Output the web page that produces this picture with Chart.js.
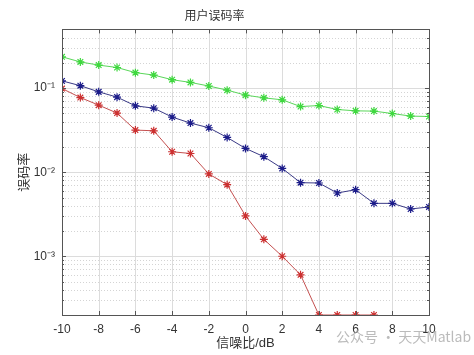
<!DOCTYPE html>
<html>
<head>
<meta charset="utf-8">
<script src="https://cdn.jsdelivr.net/npm/chart.js@4/dist/chart.umd.min.js"></script>
<style>
html,body{margin:0;padding:0;background:#fff;}
#wrap{width:474px;height:355px;position:relative;}
</style>
</head>
<body>
<div id="wrap"><canvas id="c" width="474" height="355"></canvas></div>
<script>
// ---- data ----
const snrDb = [-10,-9,-8,-7,-6,-5,-4,-3,-2,-1,0,1,2,3,4,5,6,7,8,9,10];
const berGreen = [0.236,0.205,0.188,0.176,0.153,0.143,0.126,0.117,0.106,0.0947,0.0826,0.0767,0.0726,0.0604,0.0621,0.0557,0.0537,0.0533,0.0499,0.0465,0.0460];
const berBlue  = [0.122,0.107,0.0903,0.0782,0.0616,0.0578,0.0453,0.0384,0.0338,0.0259,0.0192,0.0153,0.0111,0.0075,0.00744,0.00566,0.00619,0.00426,0.00426,0.00365,0.00386];
const berRed   = [0.0989,0.0773,0.0628,0.0505,0.0317,0.0311,0.0175,0.0167,0.00953,0.00711,0.00302,0.00159,0.00100,0.000601,0.0002,0.0002,0.0002,0.0002,null,null,null];
const xTickValues = [-10,-8,-6,-4,-2,0,2,4,6,8,10];
const yDecades = [0.001,0.01,0.1];
const yDecadeLabels = ['10\u207B\u00B3','10\u207B\u00B2','10\u207B\u00B9'];
const titleText = '用户误码率';
const xTitle = '信噪比/dB';
const yTitle = '误码率';
const watermark = '公众号 · 天天Matlab';

const FONT = "'Liberation Sans', 'Noto Sans CJK SC', sans-serif";
const yMin = 2e-4, yMax = 0.5;

function toPts(arr){ return snrDb.map((x,i)=>({x:x, y:arr[i]})); }

// all minor/major y gridline values
const yGridVals = [];
for (let k=-4;k<=-1;k++){ for(let m=1;m<=9;m++){ const v=+(m*Math.pow(10,k)).toPrecision(3); if(v>=yMin-1e-12 && v<=yMax+1e-12) yGridVals.push(v);} }

const gridPlugin = {
  id:'matlabGrid',
  beforeDatasetsDraw(chart){
    const {ctx, chartArea:a, scales:{x,y}} = chart;
    ctx.save();
    ctx.beginPath(); ctx.rect(a.left,a.top,a.right-a.left,a.bottom-a.top); ctx.clip();
    ctx.lineWidth=1;
    yGridVals.forEach(v=>{
      const isMajor = yDecades.some(d=>Math.abs(d-v)/d<1e-6);
      const py = Math.round(y.getPixelForValue(v))+0.5;
      ctx.beginPath();
      if(isMajor){ ctx.setLineDash([]); ctx.strokeStyle='#dcdcdc'; }
      else { ctx.setLineDash([1,2]); ctx.strokeStyle='#d4d4d4'; }
      ctx.moveTo(a.left,py); ctx.lineTo(a.right,py); ctx.stroke();
    });
    ctx.setLineDash([]);
    ctx.strokeStyle='#dcdcdc';
    xTickValues.forEach(v=>{
      const px = Math.round(x.getPixelForValue(v))+0.5;
      ctx.beginPath(); ctx.moveTo(px,a.top); ctx.lineTo(px,a.bottom); ctx.stroke();
    });
    ctx.restore();
  },
  afterDatasetsDraw(chart){
    const {ctx, chartArea:a, scales:{x,y}} = chart;
    ctx.save();
    ctx.strokeStyle='#555'; ctx.lineWidth=1;
    ctx.strokeRect(Math.round(a.left)+0.5, Math.round(a.top)+0.5, Math.round(a.right-a.left), Math.round(a.bottom-a.top));
    ctx.beginPath();
    xTickValues.forEach(v=>{
      const px = Math.round(x.getPixelForValue(v))+0.5;
      ctx.moveTo(px,a.bottom); ctx.lineTo(px,a.bottom-4);
      ctx.moveTo(px,a.top); ctx.lineTo(px,a.top+4);
    });
    yGridVals.forEach(v=>{
      const isMajor = yDecades.some(d=>Math.abs(d-v)/d<1e-6);
      const L = isMajor?4:2;
      const py = Math.round(y.getPixelForValue(v))+0.5;
      ctx.moveTo(a.left,py); ctx.lineTo(a.left+L,py);
      ctx.moveTo(a.right,py); ctx.lineTo(a.right-L,py);
    });
    ctx.stroke();
    ctx.restore();
  },
  afterDraw(chart){
    const ctx = chart.ctx;
    ctx.save();
    ctx.fillStyle='rgba(175,175,175,0.85)';
    ctx.font = "14px 'Noto Sans CJK SC', sans-serif";
    ctx.textBaseline='middle';
    ctx.fillText(watermark, 336, 337);
    ctx.restore();
  }
};

new Chart(document.getElementById('c'), {
  type:'line',
  data:{
    datasets:[
      {data:toPts(berGreen), borderColor:'#5ad65a', backgroundColor:'#3fd83f', pointBorderColor:'#3fd83f', borderWidth:1, pointStyle:'star', pointRadius:4, pointBorderWidth:1.2, fill:false, tension:0},
      {data:toPts(berBlue), borderColor:'#3a3a86', backgroundColor:'#1c1c8a', pointBorderColor:'#1c1c8a', borderWidth:1, pointStyle:'star', pointRadius:4, pointBorderWidth:1.2, fill:false, tension:0},
      {data:toPts(berRed), borderColor:'#c45050', backgroundColor:'#cc3030', pointBorderColor:'#cc3030', borderWidth:1, pointStyle:'star', pointRadius:4, pointBorderWidth:1.2, fill:false, tension:0, spanGaps:false}
    ]
  },
  options:{
    responsive:false,
    animation:false,
    devicePixelRatio:1,
    layout:{padding:{left:0,right:45,top:0,bottom:0}},
    plugins:{
      legend:{display:false},
      tooltip:{enabled:false},
      title:{display:true, text:titleText, color:'#333', font:{family:FONT,size:12,weight:'normal'}, padding:{top:9,bottom:6}}
    },
    scales:{
      x:{
        type:'linear', min:-10, max:10,
        afterBuildTicks(s){ s.ticks = xTickValues.map(v=>({value:v})); },
        afterFit(s){ s.height = 40; },
        grid:{display:false, drawTicks:false},
        border:{display:false},
        ticks:{color:'#333', padding:7, maxRotation:0, autoSkip:false, font:{family:FONT,size:12}, callback:(v)=>String(v)},
        title:{display:true, text:xTitle, color:'#333', font:{family:FONT,size:13}, padding:{top:0,bottom:4}}
      },
      y:{
        type:'logarithmic', min:yMin, max:yMax,
        afterBuildTicks(s){ s.ticks = yGridVals.map(v=>({value:v})); },
        afterFit(s){ s.width = 62; },
        grid:{display:false, drawTicks:false},
        border:{display:false},
        ticks:{color:'#333', padding:7, autoSkip:false, font:{family:FONT,size:12},
          callback:(v)=>{ const i = yDecades.findIndex(d=>Math.abs(d-v)/d<1e-6); return i>=0?yDecadeLabels[i]:''; }},
        title:{display:true, text:yTitle, color:'#333', font:{family:FONT,size:13}, padding:{top:17,bottom:0}}
      }
    }
  },
  plugins:[gridPlugin]
});
</script>
</body>
</html>
